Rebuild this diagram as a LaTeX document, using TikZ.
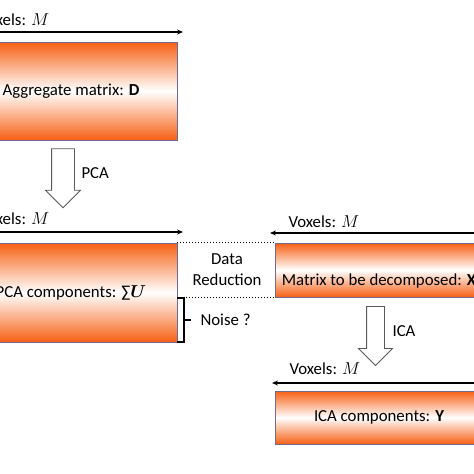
\documentclass[tikz,border=0pt]{standalone}
\usepackage{amsmath}
\usepackage{fontspec}
\setmainfont{Carlito}
\usepackage{tikz}
\usetikzlibrary{positioning, shapes, arrows.meta, calc}

\definecolor{barorange}{RGB}{246,96,20}
\definecolor{baredge}{RGB}{112,104,150}

\tikzset{
  matbar/.style={rectangle, draw=baredge, line width=0.8pt, top color=barorange, bottom color=barorange, middle color=white, inner sep=0pt},
  dimline/.style={line width=1.4pt, -{Stealth[length=6pt, width=5pt]}},
  blockarrow/.style={single arrow, draw=black!65, fill=white, line width=0.8pt, single arrow head indent=0pt, rotate=-90},
  bracket/.style={line width=1.3pt},
}

\begin{document}
\begin{tikzpicture}[x=1pt, y=-1pt, font=\fontsize{16.8}{21}\selectfont]
  \useasboundingbox (0,0) rectangle (474,474);

  % Matrices
  \node[matbar, minimum width=212, minimum height=98] (matD) at (71,91) {Aggregate matrix: $\mathbf{D}$};
  \node[matbar, minimum width=212, minimum height=99] (matU) at (71,292.5) {PCA components: ∑$\boldsymbol{U}$};
  \node[matbar, minimum width=208, minimum height=54, text height=30pt, text depth=0pt] (matX) at (379,270) {Matrix to be decomposed: $\mathbf{X}$};
  \node[matbar, minimum width=208, minimum height=53] (matY) at (379,417.5) {ICA components: $\mathbf{Y}$};

  % Voxel dimensions
  \coordinate (dimDa) at (-10,32);  \coordinate (dimDb) at (183,32);
  \coordinate (dimUa) at (-10,232); \coordinate (dimUb) at (183,232);
  \coordinate (dimXa) at (490,233); \coordinate (dimXb) at (270,233);
  \coordinate (dimYa) at (490,383); \coordinate (dimYb) at (272,383);
  \foreach \m in {D,U,X,Y}
  \draw[dimline] (dim\m a) -- (dim\m b);
  \node[anchor=base west] (voxD) at (-25,25) {Voxels: $M$};
  \node[anchor=base west] (voxU) at (-25,224) {Voxels: $M$};
  \node[anchor=base west] (voxX) at (285,227) {Voxels: $M$};
  \node[anchor=base west] (voxY) at (286,374) {Voxels: $M$};

  % Decompositions
  \node[blockarrow, inner sep=11pt, minimum height=59, minimum width=34, single arrow head extend=6] (pcaArrow) at (63,172.5) {};
  \node[anchor=base west] (pcaLabel) at (78,178) {PCA};
  \node[blockarrow, inner sep=8.5pt, minimum height=59, minimum width=33, single arrow head extend=8] (icaArrow) at (375.5,331.5) {};
  \node[anchor=base west] (icaLabel) at (389,336) {ICA};

  % Data reduction and noise
  \draw[dotted, line width=1pt] (matU.north east) -- (matX.north west);
  \draw[dotted, line width=1pt] (matU.east |- matX.south) -- (matX.south west);
  \node[align=center] (dataRed) at (227,270) {Data\\Reduction};
  \coordinate (nzTop) at (177,298);
  \coordinate (nzBot) at (177,342);
  \coordinate (nzMid) at (184,320);
  \draw[bracket] (nzTop) -- ++(7,0) -- ($(nzBot)+(7,0)$) -- (nzBot);
  \draw[bracket] (nzMid) -- ++(7,0);
  \node[anchor=west] (noiseLbl) at (197,320) {Noise ?};
\end{tikzpicture}
\end{document}
